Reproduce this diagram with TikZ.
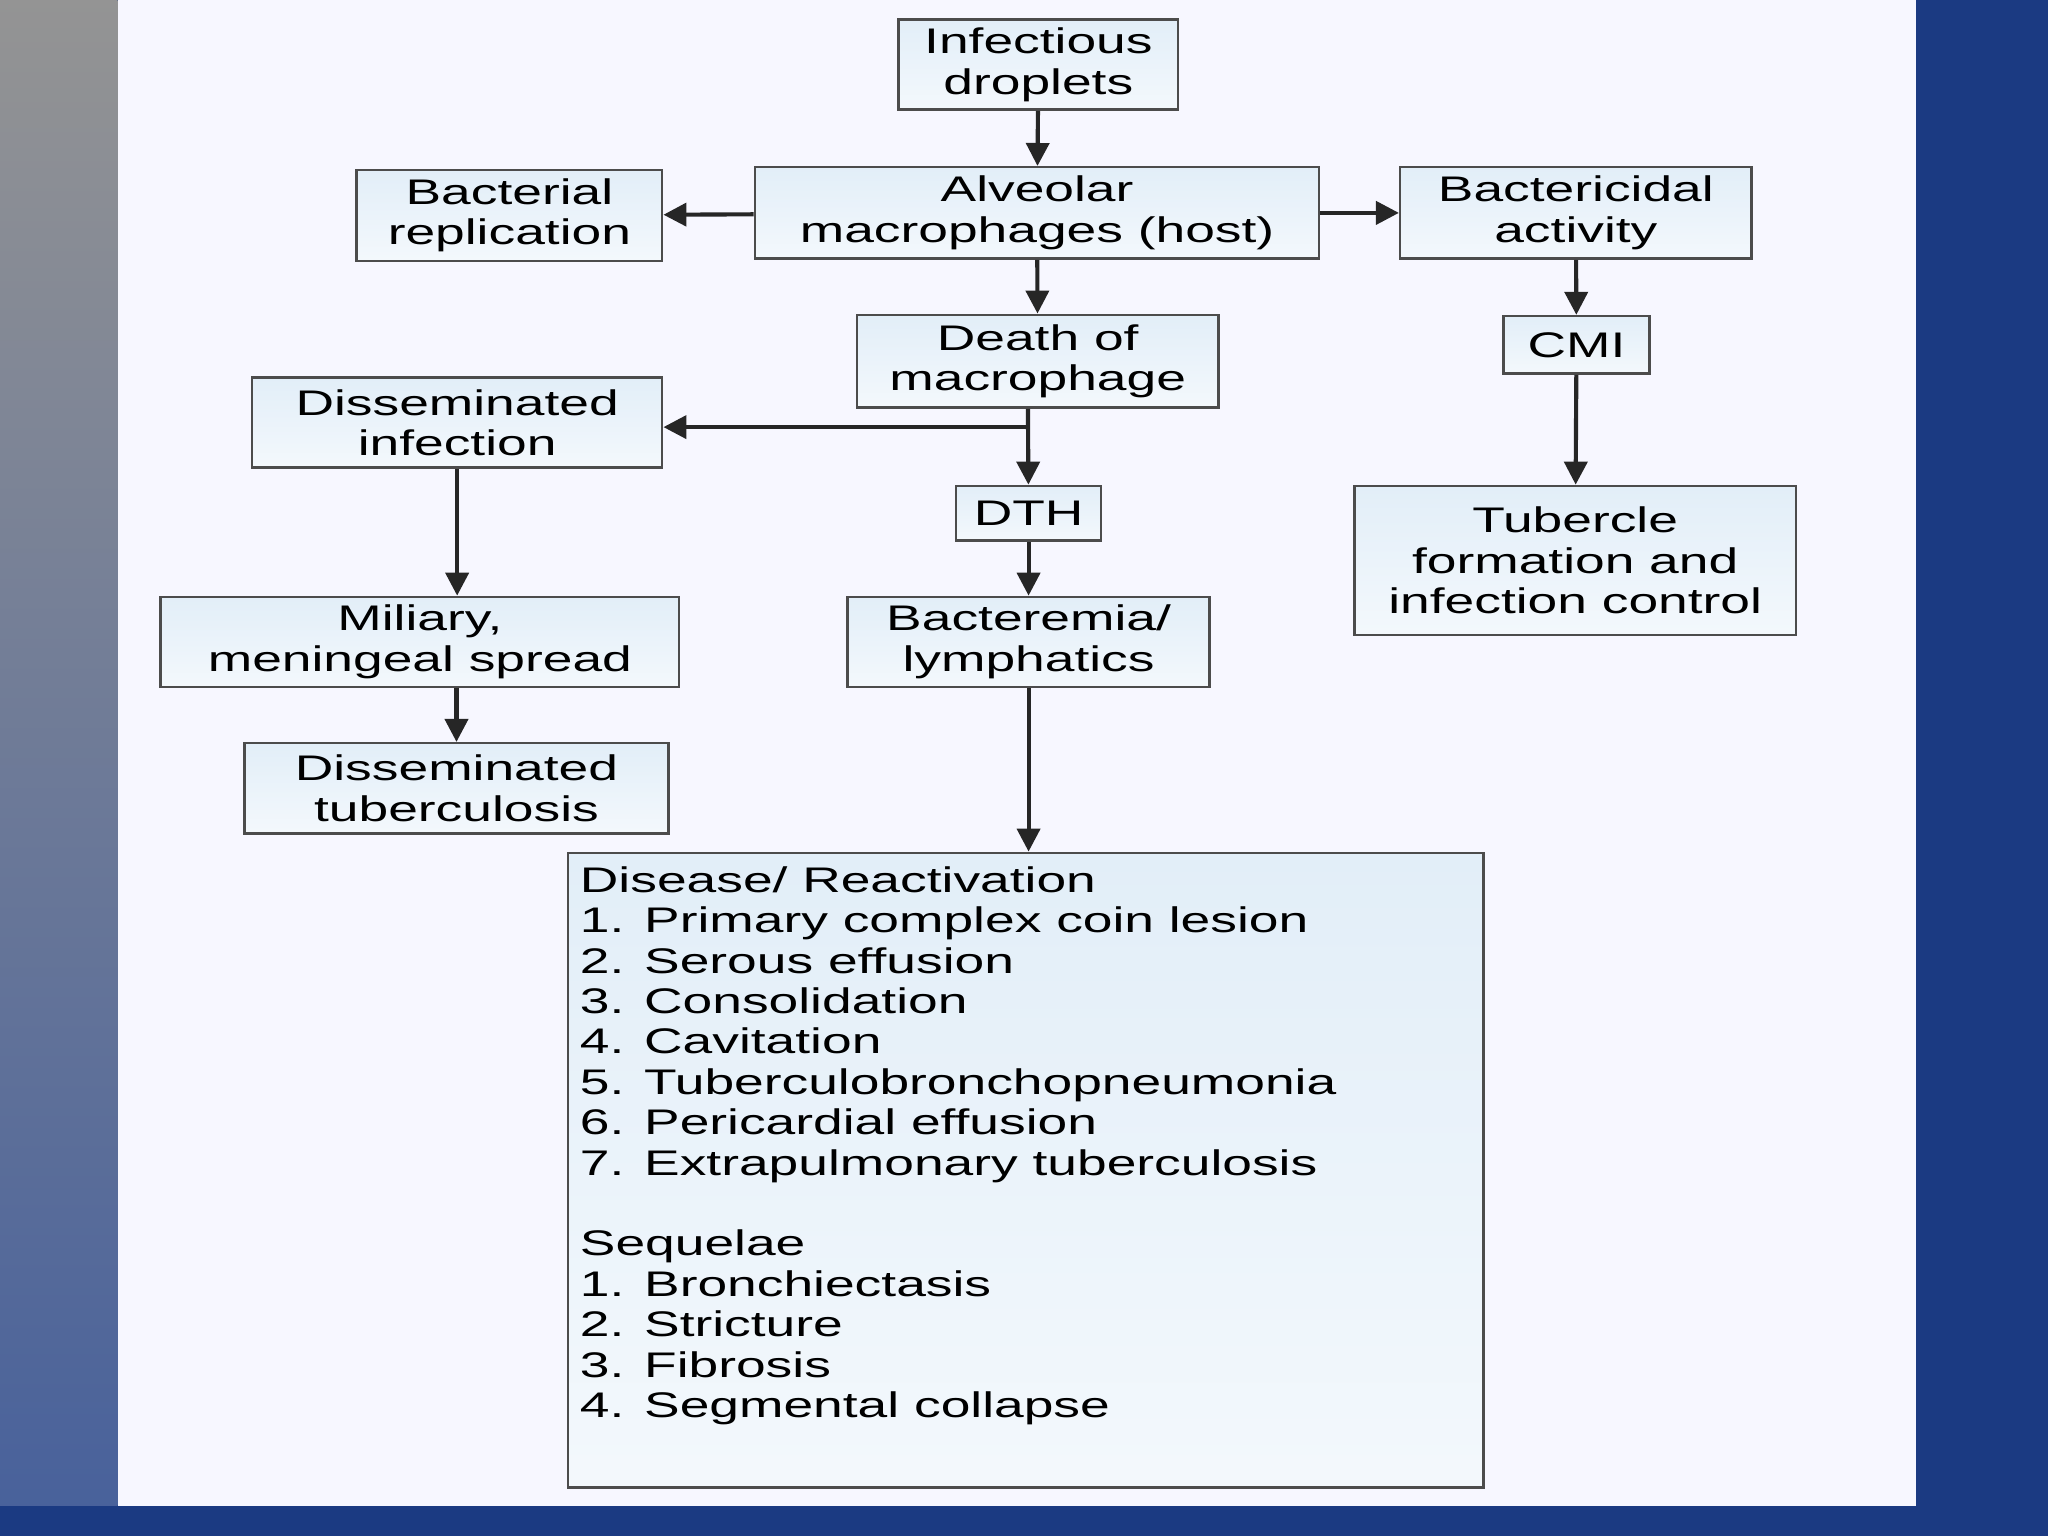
\documentclass[tikz,border=0pt]{standalone}
\usepackage{fontspec}
\setmainfont{Liberation Sans}[FakeStretch=1.5]
\usetikzlibrary{arrows.meta}
\definecolor{dblue}{HTML}{1B3A82}
\definecolor{boxfill}{HTML}{E2EEF8}
\begin{document}
\begin{tikzpicture}[x=0.02cm,y=-0.02cm,
  bx/.style={draw=black!70,line width=1.1pt,top color=boxfill,bottom color=white!60!boxfill,inner sep=0pt,align=center,font=\fontsize{15.5}{17.6}\selectfont},
  ar/.style={line width=1.8pt,black!85,-{Triangle[length=10pt,width=10pt]}}]
\useasboundingbox (0,0) rectangle (1568,1176);
\fill[dblue] (0,0) rectangle (1568,1176);
\shade[top color=black!40!gray!60,bottom color=dblue!80] (0,0) rectangle (90,1153);
\fill[white!97!blue] (90,0) rectangle (1467,1153);
\newcommand{\bxat}[4]{\node[bx,minimum width=#3*0.02cm,minimum height=#4*0.02cm] (#1) at (#2) }
\bxat{drop}{795,49.5}{214}{69}{Infectious\\droplets};
\bxat{alv}{794,163}{432}{70}{Alveolar\\macrophages (host)};
\bxat{brep}{390,165}{234}{70}{Bacterial\\replication};
\bxat{bact}{1206.5,163}{269}{70}{Bactericidal\\activity};
\bxat{death}{794.5,276.5}{277}{71}{Death of\\macrophage};
\bxat{cmi}{1207,264}{112}{44}{CMI};
\bxat{dinf}{350,323.5}{314}{69}{Disseminated\\infection};
\bxat{dth}{787.5,393}{111}{42}{DTH};
\bxat{tub}{1206,429}{338}{114}{Tubercle\\formation and\\infection control};
\bxat{mil}{321.5,491.5}{397}{69}{Miliary,\\meningeal spread};
\bxat{bacm}{787.5,491.5}{277}{69}{Bacteremia/\\lymphatics};
\bxat{dtb}{349.5,603.5}{325}{69}{Disseminated\\tuberculosis};
\node[bx,minimum width=701*0.02cm,minimum height=486*0.02cm,align=left,anchor=north west,inner xsep=0.18cm,inner ysep=3pt] (dis) at (434,652) {%
\begin{minipage}[t][9.3cm][t]{13.66cm}\fontsize{15.5}{17.6}\selectfont
Disease/ Reactivation\\
1. Primary complex coin lesion\\
2. Serous effusion\\
3. Consolidation\\
4. Cavitation\\
5. Tuberculobronchopneumonia\\
6. Pericardial effusion\\
7. Extrapulmonary tuberculosis\\[17.6pt]
Sequelae\\
1. Bronchiectasis\\
2. Stricture\\
3. Fibrosis\\
4. Segmental collapse
\end{minipage}};
\draw[ar] (drop) -- (alv);
\draw[ar] (alv) -- (brep);
\draw[ar] (alv) -- (bact);
\draw[ar] (alv) -- (death);
\draw[ar] (bact) -- (cmi);
\draw[ar] (cmi) -- (tub);
\coordinate (j) at (787,327);
\draw[ar] (death.south -| j) -- (dth);
\draw[ar] (j) -- (dinf.east |- j);
\draw[ar] (dinf) -- (mil.north -| dinf);
\draw[ar] (dth) -- (bacm);
\draw[ar] (mil.south -| dtb) -- (dtb);
\draw[ar] (bacm) -- (bacm.south |- dis.north);
\end{tikzpicture}
\end{document}
